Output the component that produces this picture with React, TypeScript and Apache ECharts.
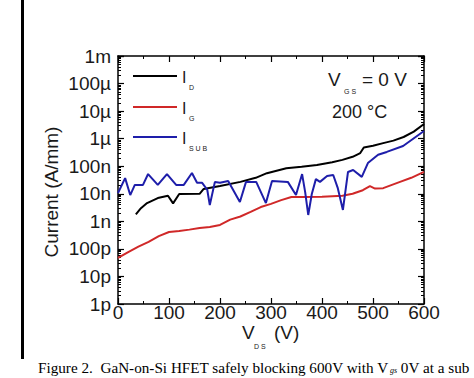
import React, { useEffect, useRef } from "react";
import * as echarts from "echarts";

const yTickLabels = ["1p", "10p", "100p", "1n", "10n", "100n", "1µ", "10µ", "100µ", "1m"];
const xTickLabels = ["0", "100", "200", "300", "400", "500", "600"];

// I_D (black)
const idV = [35, 45, 57, 78, 98, 108, 120, 160, 168, 200, 240, 270, 292, 330, 360, 390, 420, 440, 460, 475, 482, 500, 520, 540, 560, 580, 600];
const idI = [1.8e-9, 3.0e-9, 4.6e-9, 7e-9, 8.5e-9, 4.5e-9, 9.8e-9, 1e-8, 1.5e-8, 1.9e-8, 2.7e-8, 3.8e-8, 5.6e-8, 8.5e-8, 9.5e-8, 1.1e-7, 1.4e-7, 1.7e-7, 2.2e-7, 3.0e-7, 4.8e-7, 5.5e-7, 6.9e-7, 8.5e-7, 1.15e-6, 1.8e-6, 3.4e-6];

// I_G (red)
const igV = [0, 20, 40, 60, 80, 100, 120, 140, 160, 180, 200, 220, 240, 260, 280, 300, 320, 340, 360, 400, 440, 460, 480, 494, 504, 520, 553, 575, 600];
const igI = [4.7e-11, 7.7e-11, 1.2e-10, 1.8e-10, 2.9e-10, 4.1e-10, 4.5e-10, 5.0e-10, 5.7e-10, 6.2e-10, 7.4e-10, 1.15e-9, 1.5e-9, 2.2e-9, 3.3e-9, 4.3e-9, 5.9e-9, 7.6e-9, 7.6e-9, 7.8e-9, 8.5e-9, 1.0e-8, 1.35e-8, 1.9e-8, 1.55e-8, 1.6e-8, 2.7e-8, 3.8e-8, 6.2e-8];

// I_SUB (blue)
const isubV = [0, 14, 24, 33, 49, 59, 78, 96, 114, 129, 145, 155, 165, 175, 180, 190, 200, 216, 239, 251, 271, 290, 302, 333, 349, 361, 367, 373, 380, 388, 396, 410, 422, 431, 441, 451, 461, 478, 490, 510, 527, 559, 600];
const isubI = [1.07e-8, 3.7e-8, 9e-9, 2.1e-8, 2.1e-8, 5.2e-8, 2.1e-8, 5.2e-8, 2.1e-8, 2.1e-8, 5.7e-8, 2.5e-8, 2.5e-8, 1.4e-8, 3.9e-9, 2.7e-8, 2.5e-8, 2.9e-8, 5e-9, 2.7e-8, 2.7e-8, 4.6e-9, 2.9e-8, 2.7e-8, 9e-9, 5.2e-8, 1.15e-8, 1.7e-9, 9.8e-9, 3.4e-8, 2.7e-8, 4.4e-8, 4.8e-8, 1.6e-8, 2.6e-9, 6.2e-8, 7.3e-8, 4.1e-8, 1.3e-7, 2.6e-7, 3.3e-7, 5.4e-7, 1.9e-6];

const zip = (xs: number[], ys: number[]) => xs.map((x, i) => [x, ys[i]]);

const SANS = "Liberation Sans, Arial, sans-serif";
const SERIF = "Liberation Serif, Times New Roman, serif";
const TXT = "#1a1a1a";

export default function App() {
  const ref = useRef<HTMLDivElement>(null);
  useEffect(() => {
    document.body.style.margin = "0";
    const chart = echarts.init(ref.current!, null, { renderer: "svg" });
    const axisLine = { show: true, onZero: false, lineStyle: { color: "#000", width: 1.5 } };
    const tick = { show: true, inside: true, length: 6, lineStyle: { color: "#000", width: 1.2 } };
    const minor = (n: number) => ({ show: true, splitNumber: n, length: 3, lineStyle: { color: "#000", width: 1 } });
    const yLabel = (v: number) => {
      const e = Math.round(Math.log10(v)) + 12;
      return yTickLabels[e] ?? "";
    };
    const txt = (text: string, x: number, y: number, size: number, extra: any = {}) => ({
      type: "text",
      x,
      y,
      silent: true,
      style: { text, fontSize: size, fontFamily: SANS, fill: TXT, align: "left", verticalAlign: "middle", ...extra },
    });
    const legendItem = (color: string, y: number, sub: string) => [
      { type: "line", shape: { x1: 133, y1: y, x2: 177, y2: y }, style: { stroke: color, lineWidth: 2 } },
      txt("I", 182, y + 1, 16),
      txt(sub, 189, y + 11, 7),
    ];
    chart.setOption({
      animation: false,
      grid: { left: 118, top: 56, right: 50, bottom: 74, containLabel: false },
      xAxis: [
        {
          type: "value",
          min: 0,
          max: 600,
          interval: 100,
          axisLine,
          axisTick: tick,
          minorTick: minor(2),
          splitLine: { show: false },
          axisLabel: {
            fontSize: 19,
            lineHeight: 17,
            fontFamily: SANS,
            color: TXT,
            margin: 0,
            formatter: (v: number) => xTickLabels[Math.round(v / 100)] ?? "",
          },
        },
        {
          type: "value",
          position: "top",
          min: 0,
          max: 600,
          interval: 100,
          axisLine,
          axisTick: tick,
          minorTick: minor(2),
          splitLine: { show: false },
          axisLabel: { show: false },
        },
      ],
      yAxis: [
        {
          type: "log",
          logBase: 10,
          min: 1e-12,
          max: 1e-3,
          splitNumber: 9,
          axisLine,
          axisTick: tick,
          minorTick: minor(9),
          splitLine: { show: false },
          axisLabel: { fontSize: 19, fontFamily: SANS, color: TXT, margin: 7, formatter: yLabel },
        },
        {
          type: "log",
          logBase: 10,
          position: "right",
          min: 1e-12,
          max: 1e-3,
          splitNumber: 9,
          axisLine,
          axisTick: tick,
          minorTick: minor(9),
          splitLine: { show: false },
          axisLabel: { show: false },
        },
      ],
      series: [
        { name: "I_D", type: "line", data: zip(idV, idI), showSymbol: false, lineStyle: { color: "#000", width: 2 }, itemStyle: { color: "#000" } },
        { name: "I_G", type: "line", data: zip(igV, igI), showSymbol: false, lineStyle: { color: "#d02828", width: 2 }, itemStyle: { color: "#d02828" } },
        { name: "I_SUB", type: "line", data: zip(isubV, isubI), showSymbol: false, lineStyle: { color: "#1e1eaa", width: 2 }, itemStyle: { color: "#1e1eaa" } },
      ],
      graphic: [
        { type: "rect", shape: { x: 21, y: 0, width: 3, height: 359 }, style: { fill: "#000" }, silent: true },
        ...legendItem("#000", 76, "D"),
        ...legendItem("#d02828", 107, "G"),
        ...legendItem("#1e1eaa", 137, "S U B"),
        txt("V", 328, 79, 19),
        txt("G S", 344, 91, 7),
        txt("= 0 V", 362, 79, 19),
        txt("200 °C", 332, 112, 18),
        txt("V", 242, 332, 19, { lineHeight: 15 }),
        txt("D S", 254, 346, 7),
        txt("(V)", 274, 332, 19, { lineHeight: 15 }),
        {
          type: "text",
          x: 51,
          y: 192,
          rotation: Math.PI / 2,
          silent: true,
          style: { text: "Current (A/mm)", fontSize: 19, fontFamily: SANS, fill: TXT, align: "center", verticalAlign: "middle" },
        },
        {
          type: "text",
          x: 38,
          y: 367,
          silent: true,
          style: {
            text: "{n|Figure 2.  GaN-on-Si HFET safely blocking 600V with V}{s|gs}{n| 0V at a sub}",
            fontFamily: SERIF,
            fill: "#000",
            align: "left",
            verticalAlign: "middle",
            rich: {
              n: { fontSize: 15.2, fontFamily: SERIF, fill: "#000", color: "#000" },
              s: { fontSize: 8, fontFamily: SERIF, fontStyle: "italic", fill: "#000", color: "#000", verticalAlign: "bottom", padding: [0, 0, 0, 1] },
            },
          },
        },
      ],
    });
    return () => chart.dispose();
  }, []);
  return <div ref={ref} style={{ width: 474, height: 378 }} />;
}
